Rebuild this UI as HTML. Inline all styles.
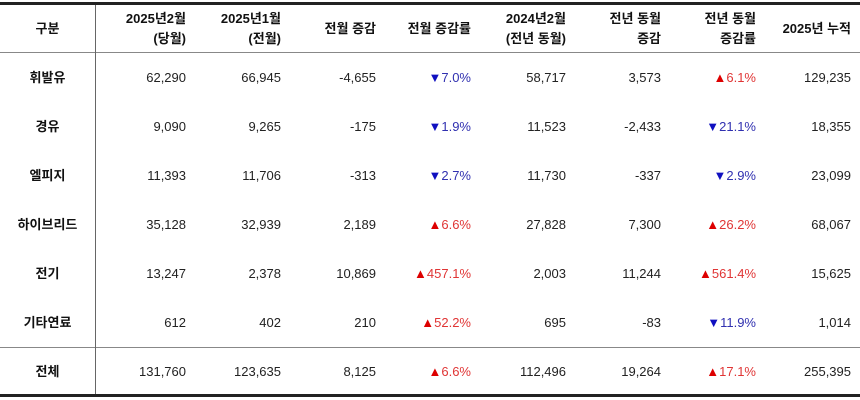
<!DOCTYPE html>
<html><head><meta charset="utf-8">
<style>
body{margin:0;width:860px;height:400px;background:#fff;overflow:hidden;font-family:"Liberation Sans","Noto Sans CJK KR",sans-serif;font-size:13px;color:#222}
.c{position:absolute;white-space:nowrap}
.h{font-weight:bold;color:#111}
.line{position:absolute;background:#222}
.up{color:#e03535}.up b{color:#d00;font-weight:normal}
.dn{color:#3030b0}.dn b{color:#1010c0;font-weight:normal}
</style></head><body>
<div class="line" style="left:0;top:2px;width:860px;height:3px"></div>
<div class="line" style="left:0;top:52px;width:860px;height:1px;background:#888"></div>
<div class="line" style="left:0;top:347px;width:860px;height:1px;background:#888"></div>
<div class="line" style="left:0;top:394px;width:860px;height:3px"></div>
<div class="line" style="left:95px;top:5px;width:1px;height:389px;background:#666"></div>
<div id="t"></div>
<script>
const headers=[["구분"],["2025년2월","(당월)"],["2025년1월","(전월)"],["전월 증감"],["전월 증감률"],["2024년2월","(전년 동월)"],["전년 동월","증감"],["전년 동월","증감률"],["2025년 누적"]];
const rows=[
["휘발유","62,290","66,945","-4,655","d7.0%","58,717","3,573","u6.1%","129,235"],
["경유","9,090","9,265","-175","d1.9%","11,523","-2,433","d21.1%","18,355"],
["엘피지","11,393","11,706","-313","d2.7%","11,730","-337","d2.9%","23,099"],
["하이브리드","35,128","32,939","2,189","u6.6%","27,828","7,300","u26.2%","68,067"],
["전기","13,247","2,378","10,869","u457.1%","2,003","11,244","u561.4%","15,625"],
["기타연료","612","402","210","u52.2%","695","-83","d11.9%","1,014"],
["전체","131,760","123,635","8,125","u6.6%","112,496","19,264","u17.1%","255,395"]];
const t=document.getElementById('t');
function cell(txt,x,y,cls,off){const d=document.createElement('div');d.className='c '+cls;
d.style.top=(y-off)+'px';
if(x===null){d.style.left='0px';d.style.width='95px';d.style.textAlign='center';}
else{d.style.right=(860-x)+'px';}
d.innerHTML=txt;t.appendChild(d);return d;}
const rightEdge=i=>95+95*i-4;
headers.forEach((h,i)=>{
 const x=i===0?null:rightEdge(i);
 if(h.length===1){const d=cell(h[0],x,27,'h',9);
 
 }
 else h.forEach((s,j)=>{const d=cell(s,x,17+j*20,'h',9);
 
 });
});
rows.forEach((r,ri)=>{
 const y=ri===6?371:77+ri*49;
 r.forEach((v,ci)=>{
  let txt=v,cls='';
  if(ci===0)cls='h';
  else if(v[0]==='u'){txt='<b>▲</b>'+v.slice(1);cls='up';}
  else if(v[0]==='d'){txt='<b>▼</b>'+v.slice(1);cls='dn';}
  const d=cell(txt,ci===0?null:rightEdge(ci),y,cls,ci===0?10:7);
  
  
 });
});
</script>
</body></html>
